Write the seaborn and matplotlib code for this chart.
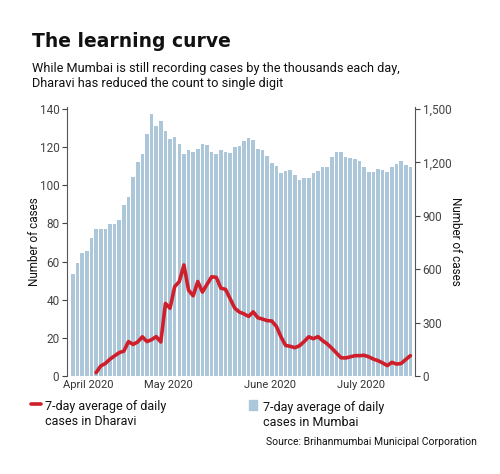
import matplotlib
matplotlib.use('Agg')
import matplotlib.pyplot as plt
from matplotlib.lines import Line2D
from matplotlib.patches import Rectangle
from matplotlib.ticker import FuncFormatter
import seaborn as sns
import pandas as pd

# 7-day average of daily cases in Mumbai (right axis), one bar per step
mumbai = [575, 636, 692, 704, 776, 823, 823, 828, 855, 856,
          879, 961, 1004, 1118, 1202, 1250, 1362, 1470, 1405, 1433,
          1377, 1330, 1343, 1302, 1250, 1269, 1261, 1274, 1302, 1298,
          1259, 1246, 1269, 1259, 1254, 1287, 1293, 1321, 1336, 1325,
          1274, 1272, 1235, 1196, 1177, 1143, 1149, 1157, 1131, 1103,
          1112, 1112, 1143, 1153, 1172, 1175, 1228, 1256, 1261, 1228,
          1224, 1218, 1209, 1175, 1147, 1147, 1162, 1157, 1147, 1172,
          1190, 1209, 1187, 1172]

# 7-day average of daily cases in Dharavi (left axis), starts at step 5
dharavi_start = 5
dharavi = [1.7, 5.2, 6.5, 8.8, 10.5, 12.2, 13.0, 18.0, 16.5, 17.8,
           20.5, 18.0, 19.0, 20.6, 17.8, 38.0, 35.5, 46.8, 49.5, 58.2,
           45.0, 42.0, 49.5, 44.0, 48.0, 52.0, 51.7, 46.0, 45.4, 40.5,
           35.5, 33.5, 32.5, 31.2, 33.6, 30.5, 29.8, 29.0, 28.8, 26.0,
           20.5, 16.0, 15.5, 14.8, 15.8, 18.0, 20.5, 19.5, 20.6, 18.5,
           16.8, 14.5, 12.0, 9.5, 9.4, 10.0, 10.6, 10.6, 10.8, 10.0,
           8.8, 8.0, 6.8, 5.4, 7.1, 6.2, 6.5, 8.6, 10.6]

month_labels = ['April 2020', 'May 2020', 'June 2020', 'July 2020']
month_pos = [3.3, 20.6, 42.6, 62.4]

left_ticks = [0, 20, 40, 60, 80, 100, 120, 140]
right_ticks = [0, 300, 600, 900, 1200, 1500]

BAR = '#abc7d9'
RED = '#cf1f2b'
TXT = '#333333'

df_m = pd.DataFrame({'step': range(len(mumbai)), 'cases': mumbai})
df_d = pd.DataFrame({'step': range(dharavi_start, dharavi_start + len(dharavi)),
                     'cases': dharavi})

sns.set_style('white')
plt.rcParams['font.family'] = ['Roboto', 'DejaVu Sans']

fig = plt.figure(figsize=(5, 4.74), dpi=100)
ax = fig.add_axes([0.134, 0.207, 0.696, 0.567])
ax2 = ax.twinx()

# bars for Mumbai on the right axis
sns.barplot(data=df_m, x='step', y='cases', color=BAR, width=0.78,
            saturation=1, linewidth=0, ax=ax2)

# Dharavi line on the left axis, drawn above the bars
ax.set_zorder(ax2.get_zorder() + 1)
ax.patch.set_visible(False)
sns.lineplot(data=df_d, x='step', y='cases', color=RED, linewidth=2.6,
             ax=ax)

ax.set_xlim(-1.3, 74.0)
ax.set_ylim(0, 141)
ax2.set_ylim(0, 1500 * 141 / 140)

ax.set_yticks(left_ticks)
ax2.set_yticks(right_ticks)
ax2.yaxis.set_major_formatter(FuncFormatter(lambda v, p: f'{int(v):,}'))

ax.set_xticks(month_pos)
ax.set_xticklabels(month_labels)
ax2.set_xticks(month_pos)
ax2.set_xticklabels(month_labels)

for a in (ax, ax2):
    for s in a.spines.values():
        s.set_visible(False)
    a.tick_params(axis='x', length=0, pad=3, labelsize=8, colors=TXT)
    a.tick_params(axis='y', length=3.5, width=0.8, pad=2, labelsize=8.5,
                  colors='#444444')
    a.set_xlabel('')
ax.spines['left'].set_visible(True)
ax.spines['left'].set_color('#555555')
ax.spines['left'].set_linewidth(0.8)
ax2.spines['right'].set_visible(True)
ax2.spines['right'].set_color('#555555')
ax2.spines['right'].set_linewidth(0.8)

ax.set_ylabel('Number of cases', fontsize=8.5, color='#111111', labelpad=-1)
ax2.set_ylabel('Number of cases', fontsize=8.5, color='#111111',
               rotation=270, labelpad=8)

# titles
fig.text(0.064, 0.901, 'The learning curve', fontsize=13.5, fontweight='bold',
         family='DejaVu Sans', color='#111111')
fig.text(0.064, 0.817,
         'While Mumbai is still recording cases by the thousands each day,\n'
         'Dharavi has reduced the count to single digit',
         fontsize=9.2, color='#111111', linespacing=1.2)

# legend
fig.add_artist(Line2D([0.062, 0.082], [0.148, 0.148], color=RED,
                      linewidth=2.6, transform=fig.transFigure))
fig.text(0.09, 0.104, '7-day average of daily\ncases in Dharavi',
         fontsize=9, color='#111111', linespacing=1.2)
fig.add_artist(Rectangle((0.498, 0.135), 0.016, 0.022, color=BAR,
                         transform=fig.transFigure))
fig.text(0.526, 0.102, '7-day average of daily\ncases in Mumbai',
         fontsize=9, color='#111111', linespacing=1.2)
fig.text(0.532, 0.062, 'Source: Brihanmumbai Municipal Corporation',
         fontsize=7.5, color='#111111')

fig.savefig('out.png', dpi=100, facecolor='white')
